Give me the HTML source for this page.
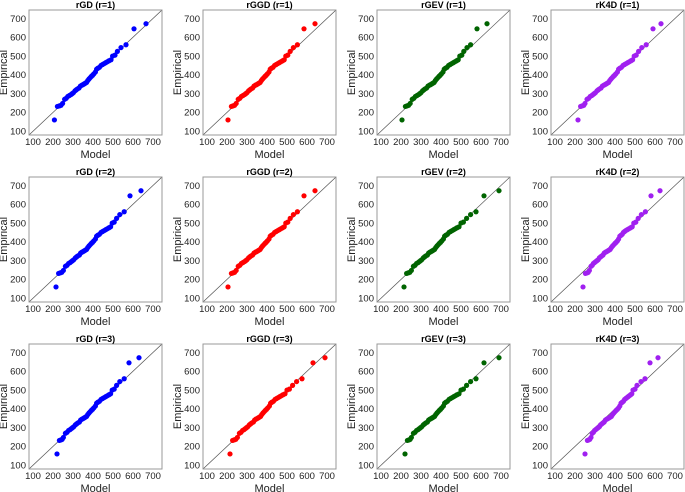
<!DOCTYPE html>
<html><head><meta charset="utf-8"><style>
body{margin:0;background:#fff}
svg{display:block;font-family:"Liberation Sans",Arial,sans-serif}
</style></head><body>
<svg id="c" width="685" height="492" viewBox="0 0 685 492"></svg>
<script>
const empirical=[160,232,235,238,248,270,275,285,290,295,300,305,315,320,325,330,340,345,348,352,356,360,370,378,385,392,398,405,415,430,435,440,450,455,460,465,470,475,480,500,505,525,545,560,645,672];
const titles=["rGD","rGGD","rGEV","rK4D"];
const colors=["#0000ff","#ff0000","#006400","#a020f0"];
const ticks=[100,200,300,400,500,600,700];
const mGD1=[207,222,232,240,248,258,266,274,282,290,296,302,310,316,322,330,337,344,350,356,362,368,374,380,386,392,398,404,412,418,424,432,440,448,456,464,472,480,490,498,510,522,540,565,605,665];
const mGGD1=[205,222,230,238,246,256,264,272,280,288,294,300,308,314,320,328,335,342,348,354,360,366,372,378,384,390,396,402,410,416,422,430,438,446,454,462,470,478,486,494,504,516,532,552,585,640];
const mGEV1=[205,222,230,238,246,256,264,272,280,288,294,300,308,314,320,328,335,342,348,354,360,366,372,378,384,390,396,402,410,416,422,430,438,446,454,462,470,478,486,494,504,514,530,548,580,630];
const mK4D1=[215,228,236,244,250,260,268,276,284,290,296,302,310,316,322,330,337,344,350,356,362,368,374,380,386,392,398,404,412,418,424,432,440,448,456,464,472,480,488,496,506,518,534,556,590,630];
const mGD2=[215,228,236,244,252,262,270,278,286,292,298,304,312,318,324,332,338,344,350,356,362,368,374,380,386,392,398,404,412,418,424,432,440,448,456,464,472,480,488,496,506,518,534,556,585,640];
const mGGD2=[205,222,230,238,246,256,264,272,280,288,294,300,308,314,320,328,335,342,348,354,360,366,372,378,384,390,396,402,410,416,422,430,438,446,454,462,470,478,486,494,504,516,532,552,585,640];
const mGEV2=[215,228,236,244,252,262,270,278,286,292,298,304,312,318,324,332,338,344,350,356,362,368,374,380,386,392,398,404,412,418,424,432,440,448,456,464,472,480,490,500,512,528,548,575,615,690];
const mK4D2=[240,252,260,266,272,280,286,292,298,304,310,316,322,328,334,340,346,352,358,364,370,376,382,388,394,400,406,412,418,424,430,436,442,448,454,462,470,478,486,494,504,516,532,552,580,625];
const mGD3=[220,232,240,246,252,262,270,278,286,292,298,304,312,318,324,332,338,344,350,356,362,368,374,380,386,392,398,404,412,418,424,432,440,448,456,464,472,480,488,496,506,518,534,556,580,630];
const mGGD3=[215,228,236,244,252,262,270,278,286,292,298,304,312,318,324,332,338,344,350,356,362,368,374,380,386,392,398,404,412,418,424,432,440,448,456,464,472,480,490,500,512,528,548,575,630,690];
const mGEV3=[220,232,240,246,252,262,270,278,286,292,298,304,312,318,324,332,338,344,350,356,362,368,374,380,386,392,398,404,412,418,424,432,440,448,456,464,472,480,490,500,512,528,548,575,615,690];
const mK4D3=[250,262,268,274,280,286,292,298,304,310,316,322,328,334,340,346,352,358,364,370,376,382,388,394,400,406,412,418,424,430,436,442,448,454,460,466,472,478,484,490,500,510,530,550,575,615];
const models=[[mGD1,mGGD1,mGEV1,mK4D1],[mGD2,mGGD2,mGEV2,mK4D2],[mGD3,mGGD3,mGEV3,mK4D3]];
const NS="http://www.w3.org/2000/svg";
const svg=document.getElementById('c');
function mk(t,a,p){const e=document.createElementNS(NS,t);for(const k in a)e.setAttribute(k,a[k]);(p||svg).appendChild(e);return e;}
const LO=80,HI=745,W=133,H=125;
for(let r=0;r<3;r++)for(let c=0;c<4;c++){
  const L=29+174*c,T=10+167*r;
  const sx=v=>L+(v-LO)/(HI-LO)*W, sy=v=>T+H-(v-LO)/(HI-LO)*H;
  const g=mk('g',{});
  
  
  const cp=mk('clipPath',{id:'cp'+r+c},g);mk('rect',{x:L,y:T,width:W,height:H},cp);
  const ln=mk('line',{x1:sx(LO),y1:sy(LO),x2:sx(HI),y2:sy(HI),stroke:'#555','stroke-width':0.7,'clip-path':'url(#cp'+r+c+')'},g);
  
  
  const m=models[r][c];
  for(let i=0;i<empirical.length;i++){
    const p=mk('circle',{cx:sx(m[i]),cy:sy(empirical[i]),r:2.6,fill:colors[c]},g);
    
    
  }
  const fr=mk('rect',{x:L,y:T,width:W,height:H,fill:'none',stroke:'#999','stroke-width':1},g);
  
  
  for(const t of ticks){
    const xl=mk('text',{x:sx(t),y:T+H+10,'font-size':9.5,'text-anchor':'middle',fill:'#222'},g);xl.textContent=t;
    
    
    const yl=mk('text',{x:L-3,y:sy(t)+3.3,'font-size':9.5,'text-anchor':'end',fill:'#222'},g);yl.textContent=t;
    
    
  }
  const ti=mk('text',{x:L+W/2,y:T-2,'font-size':9,'font-weight':'bold','text-anchor':'middle',fill:'#000'},g);
  ti.textContent=titles[c]+' (r='+(r+1)+')';
  
  
  const xt=mk('text',{x:L+W/2,y:T+H+23,'font-size':11,'text-anchor':'middle',fill:'#222'},g);xt.textContent='Model';
  
  
  const yt=mk('text',{x:0,y:0,'font-size':11,'text-anchor':'middle',fill:'#222',transform:'translate('+(L-22)+','+(T+H/2)+') rotate(-90)'},g);yt.textContent='Empirical';
  
  
}
</script>
</body></html>
